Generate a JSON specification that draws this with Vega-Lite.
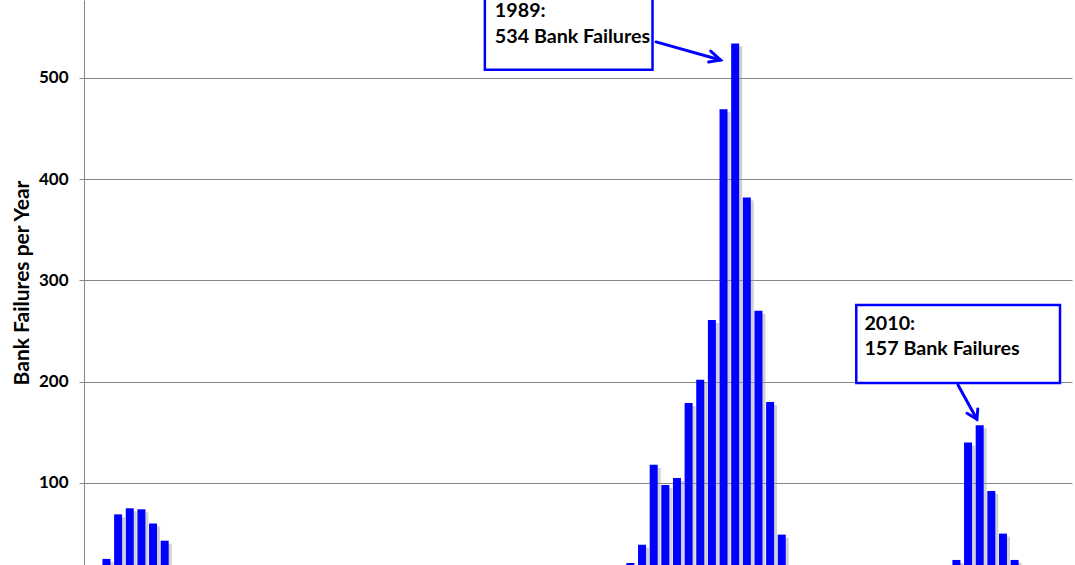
{
  "$schema": "https://vega.github.io/schema/vega-lite/v6.json",
  "width": 988,
  "height": 565,
  "autosize": "none",
  "padding": {"left": 84, "top": 0, "right": 3, "bottom": 0},
  "background": "white",
  "config": {"view": {"stroke": null}},
  "datasets": {
    "failures": [
      {"year": 1934, "value": 9}, {"year": 1935, "value": 25}, {"year": 1936, "value": 69},
      {"year": 1937, "value": 75}, {"year": 1938, "value": 74}, {"year": 1939, "value": 60},
      {"year": 1940, "value": 43}, {"year": 1941, "value": 15}, {"year": 1942, "value": 18},
      {"year": 1943, "value": 5}, {"year": 1944, "value": 2}, {"year": 1945, "value": 1},
      {"year": 1946, "value": 1}, {"year": 1947, "value": 5}, {"year": 1948, "value": 3},
      {"year": 1949, "value": 5}, {"year": 1950, "value": 4}, {"year": 1951, "value": 2},
      {"year": 1952, "value": 3}, {"year": 1953, "value": 4}, {"year": 1954, "value": 2},
      {"year": 1955, "value": 5}, {"year": 1956, "value": 2}, {"year": 1957, "value": 1},
      {"year": 1958, "value": 4}, {"year": 1959, "value": 3}, {"year": 1960, "value": 1},
      {"year": 1961, "value": 9}, {"year": 1962, "value": 3}, {"year": 1963, "value": 2},
      {"year": 1964, "value": 8}, {"year": 1965, "value": 9}, {"year": 1966, "value": 8},
      {"year": 1967, "value": 4}, {"year": 1968, "value": 3}, {"year": 1969, "value": 9},
      {"year": 1970, "value": 8}, {"year": 1971, "value": 6}, {"year": 1972, "value": 3},
      {"year": 1973, "value": 6}, {"year": 1974, "value": 4}, {"year": 1975, "value": 14},
      {"year": 1976, "value": 17}, {"year": 1977, "value": 6}, {"year": 1978, "value": 7},
      {"year": 1979, "value": 10}, {"year": 1980, "value": 21}, {"year": 1981, "value": 39},
      {"year": 1982, "value": 118}, {"year": 1983, "value": 98}, {"year": 1984, "value": 105},
      {"year": 1985, "value": 179}, {"year": 1986, "value": 202}, {"year": 1987, "value": 261},
      {"year": 1988, "value": 469}, {"year": 1989, "value": 534}, {"year": 1990, "value": 382},
      {"year": 1991, "value": 270}, {"year": 1992, "value": 180}, {"year": 1993, "value": 49},
      {"year": 1994, "value": 15}, {"year": 1995, "value": 8}, {"year": 1996, "value": 6},
      {"year": 1997, "value": 1}, {"year": 1998, "value": 3}, {"year": 1999, "value": 8},
      {"year": 2000, "value": 7}, {"year": 2001, "value": 4}, {"year": 2002, "value": 11},
      {"year": 2003, "value": 3}, {"year": 2004, "value": 4}, {"year": 2005, "value": 0},
      {"year": 2006, "value": 0}, {"year": 2007, "value": 3}, {"year": 2008, "value": 24},
      {"year": 2009, "value": 140}, {"year": 2010, "value": 157}, {"year": 2011, "value": 92},
      {"year": 2012, "value": 50}, {"year": 2013, "value": 24}, {"year": 2014, "value": 18},
      {"year": 2015, "value": 8}, {"year": 2016, "value": 5}, {"year": 2017, "value": 8}
    ],
    "boxes": [
      {"note": "1989", "year": 1967.5, "year2": 1981.9, "value": 620, "value2": 508},
      {"note": "2010", "year": 1999.4, "year2": 2016.9, "value": 275.8, "value2": 198.8}
    ],
    "notes": [
      {"year": 1968.36, "value": 560.5, "label": "1989:"},
      {"year": 1968.36, "value": 534.2, "label": "534 Bank Failures"},
      {"year": 2000.1, "value": 251.1, "label": "2010:"},
      {"year": 2000.1, "value": 226.0, "label": "157 Bank Failures"}
    ],
    "arrows": [
      {"part": "a1", "seq": 0, "year": 1982.2, "value": 535.6},
      {"part": "a1", "seq": 1, "year": 1987.74, "value": 517.8},
      {"part": "h1", "seq": 0, "year": 1986.9, "value": 526.6},
      {"part": "h1", "seq": 1, "year": 1987.74, "value": 517.8},
      {"part": "h1", "seq": 2, "year": 1986.72, "value": 515.8},
      {"part": "a2", "seq": 0, "year": 2008.14, "value": 196.8},
      {"part": "a2", "seq": 1, "year": 2009.76, "value": 162.9},
      {"part": "h2", "seq": 0, "year": 2008.91, "value": 168.8},
      {"part": "h2", "seq": 1, "year": 2009.76, "value": 162.9},
      {"part": "h2", "seq": 2, "year": 2009.84, "value": 173.1}
    ]
  },
  "encoding": {
    "x": {
      "field": "year",
      "type": "quantitative",
      "scale": {"domain": [1933.5, 2017.5], "nice": false, "zero": false},
      "axis": null
    },
    "y": {
      "field": "value",
      "type": "quantitative",
      "scale": {"domain": [19, 577], "nice": false, "zero": false},
      "axis": {
        "title": "Bank Failures per Year",
        "values": [100, 200, 300, 400, 500],
        "grid": true,
        "gridColor": "#878787",
        "gridOpacity": 1,
        "domainColor": "#878787",
        "tickColor": "#878787",
        "tickSize": 5,
        "labelFont": "Lato",
        "labelFontSize": 17,
        "labelFontWeight": "bold",
        "labelColor": "black",
        "labelPadding": 11,
        "titleFont": "Lato",
        "titleFontSize": 21,
        "titleFontWeight": "bold",
        "titleColor": "black",
        "titlePadding": 6
      }
    }
  },
  "layer": [
    {
      "data": {"name": "failures"},
      "mark": {"type": "bar", "width": 8, "color": "#9a9a9a", "opacity": 0.45, "xOffset": 3, "yOffset": 3, "clip": true}
    },
    {
      "data": {"name": "failures"},
      "mark": {"type": "bar", "width": 8, "color": "#0000ff", "clip": true}
    },
    {
      "data": {"name": "boxes"},
      "mark": {"type": "rect", "color": "#a8a8a8", "opacity": 0.6, "xOffset": 3, "yOffset": 3, "clip": true},
      "encoding": {"x2": {"field": "year2"}, "y2": {"field": "value2"}}
    },
    {
      "data": {"name": "boxes"},
      "mark": {"type": "rect", "fill": "white", "stroke": "#0000ff", "strokeWidth": 2.5, "clip": true},
      "encoding": {"x2": {"field": "year2"}, "y2": {"field": "value2"}}
    },
    {
      "data": {"name": "notes"},
      "mark": {"type": "text", "align": "left", "baseline": "alphabetic", "font": "Lato", "fontSize": 19.7, "fontWeight": "bold", "color": "black"},
      "encoding": {"text": {"field": "label"}}
    },
    {
      "data": {"name": "arrows"},
      "mark": {"type": "line", "color": "#0000ff", "strokeWidth": 3, "strokeCap": "round", "strokeJoin": "miter"},
      "encoding": {"detail": {"field": "part"}, "order": {"field": "seq"}}
    }
  ]
}
